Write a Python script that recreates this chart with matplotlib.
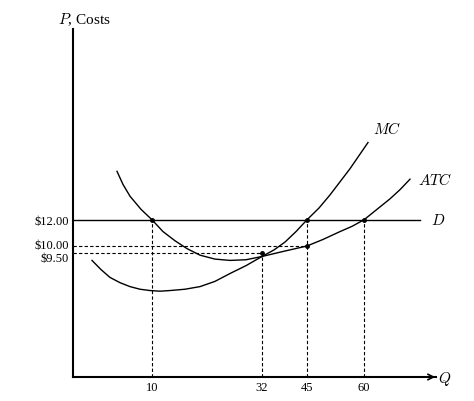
import matplotlib.pyplot as plt
from matplotlib.transforms import ScaledTranslation

# schematic chart: x positions of the Q ticks (not to scale), prices in $
q_labels = ['10', '32', '45', '60']
q_pos = [7.9, 18.9, 23.4, 29.1]
p_labels = ['\\$12.00', '\\$10.00', '\\$9.50']
p_vals = [12.0, 10.0, 9.5]

mc_x = [4.4, 5.0, 5.7, 6.8, 7.9, 9.0, 10.2, 11.4, 12.7, 14.2, 15.7, 17.3, 18.9, 20.1, 21.2, 22.3, 23.4, 24.6, 25.7, 26.7, 27.7, 28.6, 29.5]
mc_y = [15.7, 14.7, 13.8, 12.8, 12.0, 11.1, 10.4, 9.8, 9.3, 9.0, 8.9, 8.95, 9.2, 9.7, 10.3, 11.1, 12.0, 12.9, 13.9, 14.9, 15.9, 16.9, 17.9]
atc_x = [1.9, 2.8, 3.7, 4.7, 5.7, 6.7, 7.7, 8.7, 9.7, 11.2, 12.7, 14.2, 15.7, 17.3, 18.9, 21.1, 23.4, 25.0, 26.7, 27.9, 29.1, 30.4, 31.7, 32.7, 33.7]
atc_y = [8.9, 8.2, 7.6, 7.2, 6.9, 6.7, 6.6, 6.55, 6.6, 6.7, 6.9, 7.3, 7.9, 8.5, 9.2, 9.6, 10.0, 10.5, 11.1, 11.5, 12.0, 12.8, 13.6, 14.3, 15.1]

plt.rcParams['mathtext.fontset'] = 'cm'
plt.rcParams['font.family'] = 'Liberation Serif'

fig = plt.figure(figsize=(4.74, 4.02), dpi=100)
ax = fig.add_axes([73/474, 24/402, 401/474, 348/402])
ax.set_xlim(0, 40.1)
ax.set_ylim(0, 348/13.1)
for s in ['top', 'right']:
    ax.spines[s].set_visible(False)
ax.spines['left'].set_linewidth(1.5)
ax.spines['bottom'].set_linewidth(1.5)
ax.annotate('', xy=(36.5, 0), xytext=(35, 0),
            arrowprops=dict(arrowstyle='->', lw=1.2, color='black'))
ax.spines['bottom'].set_bounds(0, 36.3)

ax.plot(mc_x, mc_y, color='black', lw=1)
ax.plot(atc_x, atc_y, color='black', lw=1)
ax.plot([0, 34.7], [12, 12], color='black', lw=1)

# dashed guides
for q, p in [(q_pos[0], 12), (q_pos[1], 9.5), (q_pos[2], 12), (q_pos[3], 12)]:
    ax.plot([q, q], [0, p], 'k--', lw=0.8, dashes=(3, 2))
ax.plot([0, q_pos[2]], [10, 10], 'k--', lw=0.8, dashes=(3, 2))
ax.plot([0, q_pos[1]], [9.5, 9.5], 'k--', lw=0.8, dashes=(3, 2))
ax.plot([q_pos[0], q_pos[2], q_pos[3], q_pos[1], q_pos[2]],
        [12, 12, 12, 9.5, 10], 'ko', ms=2.5)

ax.set_xticks(q_pos)
ax.set_xticklabels(q_labels, fontsize=9)
ax.set_yticks(p_vals)
ax.set_yticklabels(p_labels, fontsize=9)
ax.tick_params(length=0, pad=3)
labs = ax.get_yticklabels()
labs[1].set_transform(labs[1].get_transform() + ScaledTranslation(0, 2/72, fig.dpi_scale_trans))
labs[2].set_transform(labs[2].get_transform() + ScaledTranslation(0, -3/72, fig.dpi_scale_trans))

ax.text(30.0, 18.6, '$MC$', fontsize=11)
ax.text(34.5, 14.7, '$ATC$', fontsize=11)
ax.text(35.8, 11.7, '$D$', fontsize=11)
ax.text(36.5, -0.4, '$Q$', fontsize=11)
ax.text(-1.5, 27.0, '$P$, Costs', fontsize=11, clip_on=False)

fig.savefig('out.png', dpi=100)
